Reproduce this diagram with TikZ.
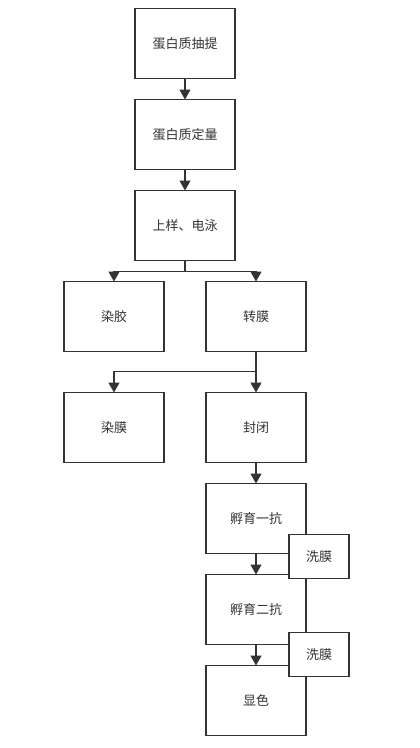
\documentclass[tikz,border=0pt]{standalone}
\usepackage{fontspec}
\setmainfont{Noto Sans CJK SC}
\usetikzlibrary{positioning,arrows.meta}
\definecolor{ink}{HTML}{333333}

\begin{document}
\begin{tikzpicture}[x=1pt,y=1pt,font=\fontsize{13}{15}\selectfont]
   \tikzstyle{arrow} = [line width=1.3pt,color=ink,->,>={Triangle[length=10pt,width=11pt]}]
   \tikzset{stepbox/.style = {rectangle, draw=ink, line width=1.6pt, fill=white, text=ink, minimum width=100pt, minimum height=70pt, inner sep=0pt, outer sep=0pt}, }
   \tikzset{washbox/.style = {rectangle, draw=ink, line width=1.6pt, fill=white, text=ink, minimum width=60pt, minimum height=44pt, inner sep=0pt, outer sep=0pt}, }
   \useasboundingbox (0,0) rectangle (420,-748);

   \node[stepbox] at (185,-43.5) (extract) {蛋白质抽提};
   \node[stepbox, below =21pt of extract] (quant) {蛋白质定量};
   \node[stepbox, below =21pt of quant] (load) {上样、电泳};
   \node[stepbox, below =21pt of load, xshift=71pt] (transfer) {转膜};
   \node[stepbox, left =42pt of transfer] (gel) {染胶};
   \node[stepbox, below =41pt of transfer] (block) {封闭};
   \node[stepbox, left =42pt of block] (stainmem) {染膜};
   \node[stepbox, below =21pt of block] (primary) {孵育一抗};
   \node[stepbox, below =21pt of primary] (secondary) {孵育二抗};
   \node[stepbox, below =21pt of secondary] (develop) {显色};

   % main line
   \draw[arrow] (extract) -- (quant);
   \draw[arrow] (quant) -- (load);
   \draw[arrow] (load.south) -- ++(0,-11) -| (gel.north);
   \draw[arrow] (load.south) -- ++(0,-11) -| (transfer.north);
   \draw[arrow] (transfer.south) -- ++(0,-20) -| (stainmem.north);
   \draw[arrow] (transfer) -- (block);
   \draw[arrow] (block) -- (primary);
   \draw[arrow] (primary) -- (secondary);
   \draw[arrow] (secondary) -- (develop);

   % washing steps
   \node[washbox, anchor=north west] at ([xshift=-17pt,yshift=19pt]primary.south east) (wash1) {洗膜};
   \node[washbox, anchor=north west] at ([xshift=-17pt,yshift=12pt]secondary.south east) (wash2) {洗膜};
\end{tikzpicture}
\end{document}
